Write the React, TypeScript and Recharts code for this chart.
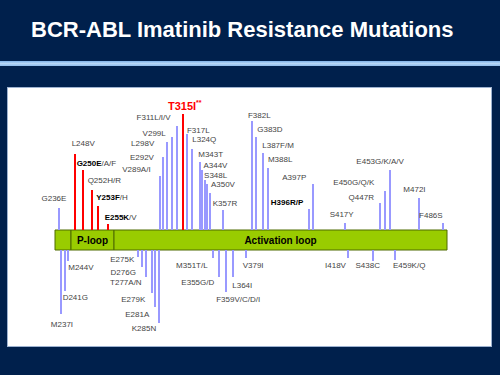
import React from 'react';
import { ComposedChart, Bar, XAxis, YAxis, ReferenceArea, LabelList, Cell, Label } from 'recharts';

// Kinase-domain schematic segments (schematic position units along the domain)
const domainSegments = [
  { name: '', start: 0, end: 16 },
  { name: 'P-loop', start: 16, end: 59 },
  { name: 'Activation loop', start: 59, end: 392 },
];

// Mutations drawn above the domain: schematic position, tick length, highlighted (red)
const mutationsAbove = [
  { name: 'G236E', pos: 4, len: 22, key: false },
  { name: 'L248V', pos: 20.3, len: 76, key: true },
  { name: 'G250E/A/F', pos: 28.3, len: 60, key: true },
  { name: 'Q252H/R', pos: 36.7, len: 40, key: true },
  { name: 'Y253F/H', pos: 42.7, len: 24, key: true },
  { name: 'E255K/V', pos: 53.3, len: 6, key: true },
  { name: 'V289A/I', pos: 104.7, len: 54, key: false },
  { name: 'E292V', pos: 108.3, len: 73, key: false },
  { name: 'L298V', pos: 112.3, len: 88, key: false },
  { name: 'V299L', pos: 116.8, len: 93, key: false },
  { name: 'F311L/I/V', pos: 122.3, len: 104, key: false },
  { name: 'T315I', pos: 128, len: 116, key: true },
  { name: 'F317L', pos: 132, len: 96, key: false },
  { name: 'L324Q', pos: 137, len: 81, key: false },
  { name: 'M343T', pos: 145.3, len: 68, key: false },
  { name: 'A344V', pos: 147.5, len: 60, key: false },
  { name: 'S348L', pos: 149.8, len: 50, key: false },
  { name: '', pos: 152.2, len: 46, key: false },
  { name: 'A350V', pos: 155, len: 37, key: false },
  { name: 'K357R', pos: 168, len: 20, key: false },
  { name: 'F382L', pos: 197, len: 109, key: false },
  { name: 'G383D', pos: 201, len: 93, key: false },
  { name: 'L387F/M', pos: 208.3, len: 77, key: false },
  { name: 'M388L', pos: 213, len: 62, key: false },
  { name: 'H396R/P', pos: 254, len: 21, key: false },
  { name: 'A397P', pos: 258.3, len: 46, key: false },
  { name: 'S417Y', pos: 290.3, len: 7, key: false },
  { name: 'Q447R', pos: 325, len: 27, key: false },
  { name: 'E450G/Q/K', pos: 330.5, len: 39, key: false },
  { name: 'E453G/K/A/V', pos: 335, len: 60, key: false },
  { name: 'M472I', pos: 364, len: 32, key: false },
  { name: 'F486S', pos: 388.3, len: 7, key: false },
];

// Mutations drawn below the domain
const mutationsBelow = [
  { name: 'M237I', pos: 6.3, len: 64 },
  { name: 'D241G', pos: 9.7, len: 41 },
  { name: 'M244V', pos: 13.3, len: 11 },
  { name: 'E275K', pos: 83.3, len: 7 },
  { name: 'D276G', pos: 86.7, len: 17 },
  { name: 'T277A/N', pos: 91, len: 27 },
  { name: 'E279K', pos: 97, len: 43 },
  { name: 'E281A', pos: 100.5, len: 57 },
  { name: 'K285N', pos: 103.7, len: 73 },
  { name: 'M351T/L', pos: 157.7, len: 8 },
  { name: 'E355G/D', pos: 164.3, len: 27 },
  { name: 'F359V/C/D/I', pos: 170.7, len: 42 },
  { name: 'L364I', pos: 177.7, len: 27 },
  { name: 'V379I', pos: 190.7, len: 8 },
  { name: 'I418V', pos: 292.7, len: 8 },
  { name: 'S438C', pos: 318.3, len: 11 },
  { name: 'E459K/Q', pos: 340.3, len: 10 },
];

// Bold prefix of some labels
const boldPart: Record<string, string> = {
  'G250E/A/F': 'G250E',
  'Y253F/H': 'Y253F',
  'E255K/V': 'E255K',
  'H396R/P': 'H396R/P',
};

// Label placement relative to the tick tip: [anchor, dx, dy]
type Anchor = 'start' | 'middle' | 'end';
const labelPlacement: Record<string, [Anchor, number, number]> = {
  'G236E': ['middle', -5, -10],
  'L248V': ['start', -3.6, -11],
  'G250E/A/F': ['start', -6.6, -7.5],
  'Q252H/R': ['start', -4, -10],
  'Y253F/H': ['start', -1.4, -8.7],
  'E255K/V': ['start', -3.6, -7.3],
  'V289A/I': ['end', -9, -7],
  'E292V': ['end', -9.3, 0.5],
  'L298V': ['end', -13, 1.2],
  'V299L': ['end', -6, -3.7],
  'F311L/I/V': ['end', -6.6, -8.3],
  'T315I': ['middle', 1.8, -8],
  'F317L': ['start', 0, -4],
  'L324Q': ['start', 0.3, -9.7],
  'M343T': ['start', -2, -8],
  'A344V': ['start', 1, -5],
  'S348L': ['start', -0.7, -5],
  'A350V': ['start', 1, -8.3],
  'K357R': ['middle', 2, -6.7],
  'F382L': ['start', -4, -5.7],
  'G383D': ['start', 1.3, -8],
  'L387F/M': ['start', -1, -7.7],
  'M388L': ['start', 0, -8.4],
  'H396R/P': ['end', -5.7, -7],
  'A397P': ['end', -7, -6.7],
  'S417Y': ['middle', -3.6, -8.3],
  'Q447R': ['end', -6, -6],
  'E450G/Q/K': ['end', -11.2, -8.4],
  'E453G/K/A/V': ['middle', -9.8, -8.4],
  'M472I': ['middle', -4.5, -8.3],
  'F486S': ['end', -0.6, -8],
  'M237I': ['middle', 0.7, 10],
  'D241G': ['start', -2, 6],
  'M244V': ['start', 0, 6],
  'E275K': ['end', -4, 2.4],
  'D276G': ['end', -5.7, 5],
  'T277A/N': ['end', -4.3, 5],
  'E279K': ['end', -6.7, 6.3],
  'E281A': ['end', -6.2, 7.6],
  'K285N': ['end', -2.4, 5.7],
  'M351T/L': ['end', -5, 7],
  'E355G/D': ['end', -5, 5.6],
  'F359V/C/D/I': ['middle', 12.5, 7.3],
  'L364I': ['start', -0.4, 8.3],
  'V379I': ['start', -3, 7],
  'I418V': ['end', -1.7, 7],
  'S438C': ['middle', -5.5, 4.6],
  'E459K/Q': ['start', -2.3, 5.3],
};

const FONT = '"Liberation Sans", Arial, Helvetica, sans-serif';
const HALF = 10; // half thickness of the domain bar, in y units
const BLUE = '#9999FF';
const RED = '#FF0000';
const STROKE = 2;

const rows = [
  ...mutationsAbove.map((m) => ({ ...m, side: 1, range: [HALF, HALF + m.len] })),
  ...mutationsBelow.map((m) => ({ ...m, key: false, side: -1, range: [-HALF - m.len, -HALF] })),
]
  .sort((a, b) => a.pos - b.pos)
  .map((r, i) => ({ ...r, id: i }));

// Thin tick drawn at the centre of the bar slot, independent of band size
const TickShape = (p: any) => {
  const cx = p.x + p.width / 2;
  const top = Math.min(p.y, p.y + p.height);
  const h = Math.abs(p.height);
  return <rect x={Math.round(cx) - STROKE / 2} y={top} width={STROKE} height={h} fill={p.fill} />;
};

const renderMutationLabel = (props: any) => {
  const vb = props.viewBox || props;
  const { x, y, width, height } = vb;
  const row = rows[Number(props.value)];
  if (!row || !row.name) return null;
  const place = labelPlacement[row.name];
  if (!place) return null;
  const [anchor, dx, dy] = place;
  const top = Math.min(y, y + height);
  const bottom = Math.max(y, y + height);
  const cx = x + width / 2;
  const ty = (row.side > 0 ? top : bottom) + dy;
  if (row.name === 'T315I') {
    return (
      <text x={cx + dx} y={ty} textAnchor={anchor} dominantBaseline="central" fontFamily={FONT}
        fontWeight="bold" fill={RED} fontSize={11}>
        <tspan>T315I</tspan>
        <tspan fontSize={7} dy={-4}>**</tspan>
      </text>
    );
  }
  const b = boldPart[row.name];
  return (
    <text x={cx + dx} y={ty} textAnchor={anchor} dominantBaseline="central" fontFamily={FONT}
      fontSize={8} fill="#444444">
      {b ? (
        <>
          <tspan fontWeight="bold" fill="#000000">{b}</tspan>
          {row.name.slice(b.length) ? <tspan>{row.name.slice(b.length)}</tspan> : null}
        </>
      ) : (
        row.name
      )}
    </text>
  );
};

export default function App() {
  return (
    <div style={{ position: 'absolute', left: 0, top: 0, width: 500, height: 375, overflow: 'hidden' }}>
      <svg width={500} height={375} style={{ position: 'absolute', left: 0, top: 0 }}>
        <defs>
          <linearGradient id="rule" x1="0" y1="0" x2="0" y2="1">
            <stop offset="0" stopColor="#7FB2E8" />
            <stop offset="0.5" stopColor="#B5D6F6" />
            <stop offset="1" stopColor="#8FBCEB" />
          </linearGradient>
        </defs>
        <rect x={0} y={0} width={500} height={375} fill="#00204C" />
        <text x={31} y={37.3} fill="#FFFFFF" fontFamily={FONT} fontWeight="bold" fontSize={22}>
          BCR-ABL Imatinib Resistance Mutations
        </text>
        <rect x={0} y={61} width={500} height={5} fill="url(#rule)" />
        <rect x={7.5} y={87.5} width={484} height={259} fill="#FFFFFF" stroke="#9DB2D0" strokeWidth={1} />
      </svg>
      <div style={{ position: 'absolute', left: 0, top: 0 }}>
        <ComposedChart width={500} height={375} data={rows}
          margin={{ top: 87, right: 53, bottom: 28, left: 55 }}>
          <XAxis type="number" dataKey="pos" domain={[0, 392]} hide allowDataOverflow />
          <YAxis type="number" domain={[-107, 153]} hide allowDataOverflow />
          {domainSegments.map((s) => (
            <ReferenceArea key={s.start} x1={s.start} x2={s.end} y1={-HALF} y2={HALF}
              fill="#99CC00" fillOpacity={1} stroke="#4F6A00" strokeWidth={1} ifOverflow="visible">
              {s.name ? (
                <Label value={s.name} position="center" fill="#000000" fontSize={10}
                  fontWeight="bold" fontFamily={FONT} />
              ) : null}
            </ReferenceArea>
          ))}
          <Bar dataKey="range" barSize={2} isAnimationActive={false} shape={TickShape}>
            {rows.map((r) => (
              <Cell key={r.id} fill={r.key ? RED : BLUE} />
            ))}
            <LabelList dataKey="id" content={renderMutationLabel} />
          </Bar>
        </ComposedChart>
      </div>
    </div>
  );
}
